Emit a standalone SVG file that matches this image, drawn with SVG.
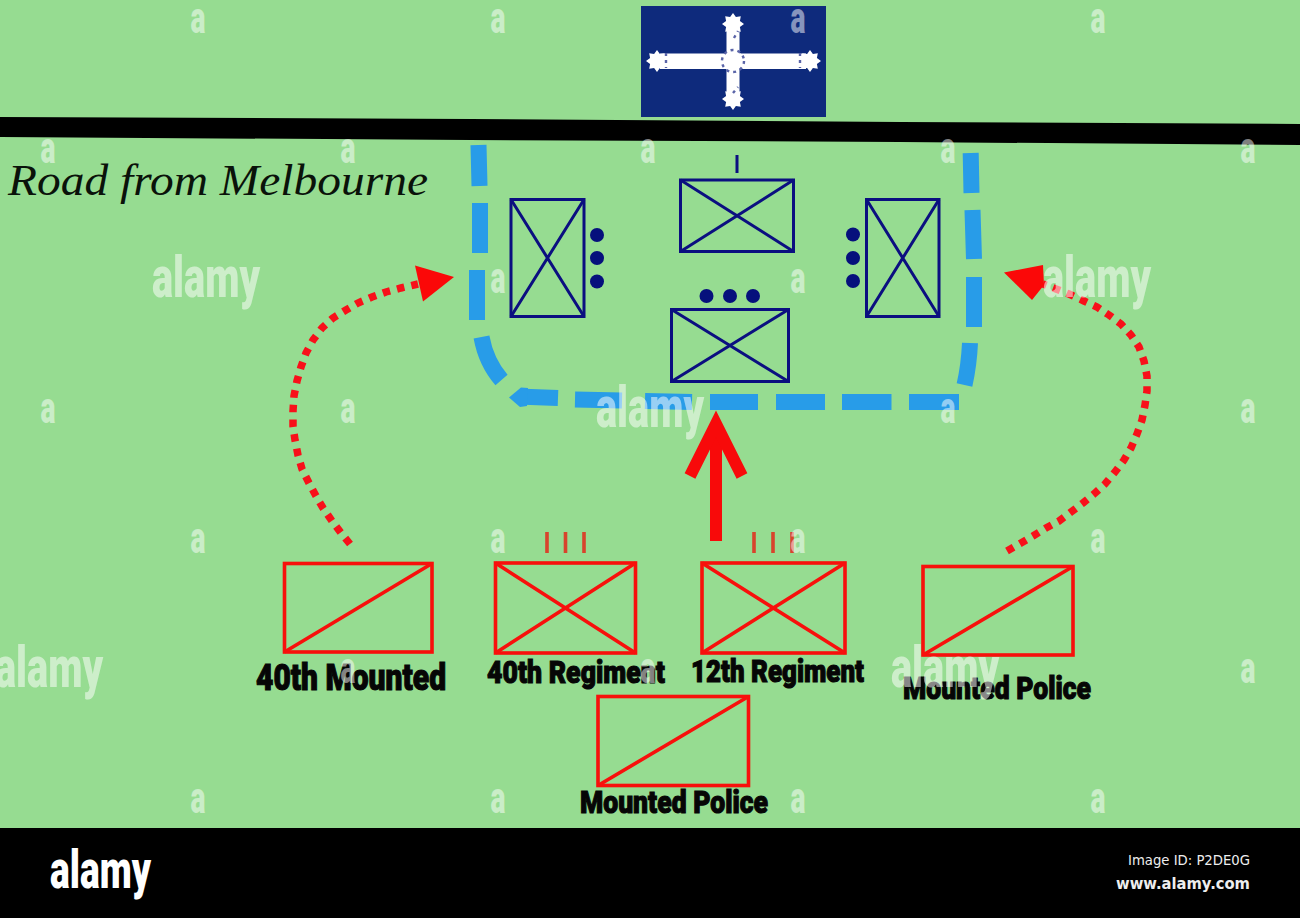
<svg xmlns="http://www.w3.org/2000/svg" width="1300" height="918" viewBox="0 0 1300 918">
<style>
.blue{fill:none;stroke:#0b0f80;stroke-width:3}
.dot{fill:#06107c}
.red{fill:none;stroke:#f8100c;stroke-width:3.6}
.tick{fill:none;stroke:#d8442c;stroke-width:3.6}
.dash{fill:none;stroke:#289ce8;stroke-width:16}
.dotted{fill:none;stroke:#f8101a;stroke-width:7.5;stroke-dasharray:7.5 7.2}
.lab{font-family:Roboto,"Liberation Sans",sans-serif;font-weight:900;fill:#060606;stroke:#060606;stroke-width:1.1}
.wa{font-family:Roboto,"Liberation Sans",sans-serif;font-weight:900;font-size:44px;fill:#fff;fill-opacity:.5;text-anchor:middle}
.wl{font-family:Roboto,"Liberation Sans",sans-serif;font-weight:900;font-size:58px;fill:#fff;fill-opacity:.52}
.spot{fill:none;stroke:#5a64a8;stroke-width:2.4;stroke-dasharray:3 4}
</style>
<defs>
<polygon id="star" fill="#fff" points="11,0 6.9,2.9 7.8,7.8 2.9,6.9 0,11 -2.9,6.9 -7.8,7.8 -6.9,2.9 -11,0 -6.9,-2.9 -7.8,-7.8 -2.9,-6.9 0,-11 2.9,-6.9 7.8,-7.8 6.9,-2.9"/>
</defs>
<rect id="ground" width="1300" height="828" fill="#96dc91"/>
<rect id="footer" y="828" width="1300" height="90" fill="#000"/>
<polygon id="road" points="0,117 470,119 900,122 1300,124 1300,145 900,142 470,140 0,137" fill="#000"/>

<g id="flag">
<rect x="641" y="6" width="185" height="111" fill="#0e2a7c"/>
<rect x="660" y="53.500" width="146" height="15.500" fill="#fff"/>
<rect x="726.500" y="28" width="13" height="72" fill="#fff"/>
<use href="#star" x="733" y="24"/>
<use href="#star" x="733" y="99"/>
<use href="#star" x="657" y="61"/>
<use href="#star" x="810" y="61"/>
<use href="#star" x="733" y="61"/>
<circle class="spot" cx="733" cy="61" r="11"/>
<path class="spot" d="M734,38L738,31M733,93L738,87M666,53V68M800,53V68"/>
</g>

<g id="road-label"><text x="8" y="195" font-family="'Liberation Serif',serif" font-style="italic" font-size="44" fill="#0a120a" textLength="420" lengthAdjust="spacingAndGlyphs">Road from Melbourne</text></g>

<g id="unit-left"><rect class="blue" x="511" y="199.500" width="73" height="117"/><path class="blue" d="M511,199.500L584,316.500M584,199.500L511,316.500"/><circle class="dot" cx="597" cy="235" r="7"/><circle class="dot" cx="597" cy="258" r="7"/><circle class="dot" cx="597" cy="281.500" r="7"/></g>
<g id="unit-top"><rect class="blue" x="680.500" y="180" width="113" height="71.500"/><path class="blue" d="M680.500,180L793.500,251.500M793.500,180L680.500,251.500M737,155V173"/></g>
<g id="unit-right"><rect class="blue" x="866.500" y="199.500" width="72.500" height="117"/><path class="blue" d="M866.500,199.500L939,316.500M939,199.500L866.500,316.500"/><circle class="dot" cx="853" cy="234.500" r="7"/><circle class="dot" cx="853" cy="258" r="7"/><circle class="dot" cx="853" cy="281" r="7"/></g>
<g id="unit-bottom"><rect class="blue" x="671.500" y="309.500" width="117" height="72"/><path class="blue" d="M671.500,309.500L788.500,381.500M788.500,309.500L671.500,381.500"/><circle class="dot" cx="706.500" cy="296" r="7"/><circle class="dot" cx="730" cy="296" r="7"/><circle class="dot" cx="753" cy="296" r="7"/></g>

<g id="connectors">
<path class="dash" d="M478.500,145L479.500,186M480,203V253M477,270V320M481.500,337Q486,362 501.500,380"/>
<path class="dash" d="M558,398L524,396.800M575,399.500L622,400.500M645,401L692,402M710,402H758M776,402H825M842,402H891.500M909,402H959"/>
<path class="dash" d="M970.700,153L971.500,193M972.500,210L974,259M974,277V327M970,343Q969,365 964.500,385"/>
<polygon points="509,397.500 521,387.500 528,388 527,406 520,407" fill="#289ce8"/>
<path d="M716,541V424" fill="none" stroke="#f80a0a" stroke-width="12"/>
<path d="M690,476L716,424L742,476" fill="none" stroke="#f80a0a" stroke-width="12"/>
<polyline class="dotted" points="350,544 341,533 332,521 323,508 316,496 309,483 302,469 298,455 295,440 293,426 293,411 294,396 297,381 301,367 306,353 313,340 322,328 333,318 346,310 358,303 372,297 386,292 401,288 418,284"/>
<polygon points="415,265.500 454,277 423,301.500" fill="#fb0808"/>
<polyline class="dotted" points="1007,551 1021,543 1033,536 1046,528 1059,521 1071,512 1083,503 1094,494 1105,484 1115,472 1124,460 1131,448 1137,434 1142,420 1145,405 1147,391 1147,376 1144,361 1139,347 1131,335 1121,324 1109,315 1097,307 1084,301 1069,294 1056,289 1043,284"/>
<polygon points="1004,272.500 1043,265 1044,285 1032,300" fill="#fb0808"/>
</g>

<g id="mounted-40"><rect class="red" x="284.500" y="563.500" width="147.500" height="88.500"/><path class="red" d="M284.500,652L432,563.500"/><text class="lab" x="256" y="690" font-size="36" textLength="190" lengthAdjust="spacingAndGlyphs">40th Mounted</text></g>
<g id="regiment-40"><rect class="red" x="495.500" y="563" width="140" height="90"/><path class="red" d="M495.500,563L635.500,653M635.500,563L495.500,653"/><path class="tick" d="M547,532V553M565.500,532V553M584,532V553"/><text class="lab" x="487" y="683" font-size="31" textLength="178" lengthAdjust="spacingAndGlyphs">40th Regiment</text></g>
<g id="regiment-12"><rect class="red" x="702" y="563" width="143" height="90"/><path class="red" d="M702,563L845,653M845,563L702,653"/><path class="tick" d="M754,532V553M773,532V553M792,532V553"/><text class="lab" x="691" y="682" font-size="31" textLength="173" lengthAdjust="spacingAndGlyphs">12th Regiment</text></g>
<g id="police-right"><rect class="red" x="923" y="566.500" width="150" height="88.500"/><path class="red" d="M923,655L1073,566.500"/><text class="lab" x="903" y="699" font-size="31" textLength="188" lengthAdjust="spacingAndGlyphs">Mounted Police</text></g>
<g id="police-bottom"><rect class="red" x="598" y="696.500" width="150.500" height="89"/><path class="red" d="M598,785.500L748.500,696.500"/><text class="lab" x="580" y="813" font-size="31" textLength="188" lengthAdjust="spacingAndGlyphs">Mounted Police</text></g>

<g id="watermarks">
<text class="wa" x="198" y="33" textLength="15" lengthAdjust="spacingAndGlyphs">a</text>
<text class="wa" x="498" y="33" textLength="15" lengthAdjust="spacingAndGlyphs">a</text>
<text class="wa" x="798" y="33" textLength="15" lengthAdjust="spacingAndGlyphs">a</text>
<text class="wa" x="1098" y="33" textLength="15" lengthAdjust="spacingAndGlyphs">a</text>
<text class="wa" x="48" y="163" textLength="15" lengthAdjust="spacingAndGlyphs">a</text>
<text class="wa" x="348" y="163" textLength="15" lengthAdjust="spacingAndGlyphs">a</text>
<text class="wa" x="648" y="163" textLength="15" lengthAdjust="spacingAndGlyphs">a</text>
<text class="wa" x="948" y="163" textLength="15" lengthAdjust="spacingAndGlyphs">a</text>
<text class="wa" x="1248" y="163" textLength="15" lengthAdjust="spacingAndGlyphs">a</text>
<text class="wa" x="498" y="293" textLength="15" lengthAdjust="spacingAndGlyphs">a</text>
<text class="wa" x="798" y="293" textLength="15" lengthAdjust="spacingAndGlyphs">a</text>
<text class="wa" x="48" y="423" textLength="15" lengthAdjust="spacingAndGlyphs">a</text>
<text class="wa" x="348" y="423" textLength="15" lengthAdjust="spacingAndGlyphs">a</text>
<text class="wa" x="948" y="423" textLength="15" lengthAdjust="spacingAndGlyphs">a</text>
<text class="wa" x="1248" y="423" textLength="15" lengthAdjust="spacingAndGlyphs">a</text>
<text class="wa" x="198" y="553" textLength="15" lengthAdjust="spacingAndGlyphs">a</text>
<text class="wa" x="498" y="553" textLength="15" lengthAdjust="spacingAndGlyphs">a</text>
<text class="wa" x="798" y="553" textLength="15" lengthAdjust="spacingAndGlyphs">a</text>
<text class="wa" x="1098" y="553" textLength="15" lengthAdjust="spacingAndGlyphs">a</text>
<text class="wa" x="348" y="683" textLength="15" lengthAdjust="spacingAndGlyphs">a</text>
<text class="wa" x="648" y="683" textLength="15" lengthAdjust="spacingAndGlyphs">a</text>
<text class="wa" x="1248" y="683" textLength="15" lengthAdjust="spacingAndGlyphs">a</text>
<text class="wa" x="198" y="813" textLength="15" lengthAdjust="spacingAndGlyphs">a</text>
<text class="wa" x="498" y="813" textLength="15" lengthAdjust="spacingAndGlyphs">a</text>
<text class="wa" x="798" y="813" textLength="15" lengthAdjust="spacingAndGlyphs">a</text>
<text class="wa" x="1098" y="813" textLength="15" lengthAdjust="spacingAndGlyphs">a</text>
<text class="wl" x="152" y="297" textLength="108" lengthAdjust="spacingAndGlyphs">alamy</text>
<text class="wl" x="1043" y="297" textLength="108" lengthAdjust="spacingAndGlyphs">alamy</text>
<text class="wl" x="596" y="427" textLength="108" lengthAdjust="spacingAndGlyphs">alamy</text>
<text class="wl" x="-5" y="687" textLength="108" lengthAdjust="spacingAndGlyphs">alamy</text>
<text class="wl" x="891" y="687" textLength="108" lengthAdjust="spacingAndGlyphs">alamy</text>
</g>

<g id="credit">
<text x="50" y="888" font-family="Roboto,'Liberation Sans',sans-serif" font-weight="900" font-size="54" fill="#fff" textLength="101" lengthAdjust="spacingAndGlyphs">alamy</text>
<text x="1128" y="865" font-family="'DejaVu Sans',sans-serif" font-size="14" fill="#eee" textLength="122" lengthAdjust="spacingAndGlyphs">Image ID: P2DE0G</text>
<text x="1116" y="889" font-family="'DejaVu Sans',sans-serif" font-weight="700" font-size="15" fill="#eee" textLength="134" lengthAdjust="spacingAndGlyphs">www.alamy.com</text>
</g>
</svg>
